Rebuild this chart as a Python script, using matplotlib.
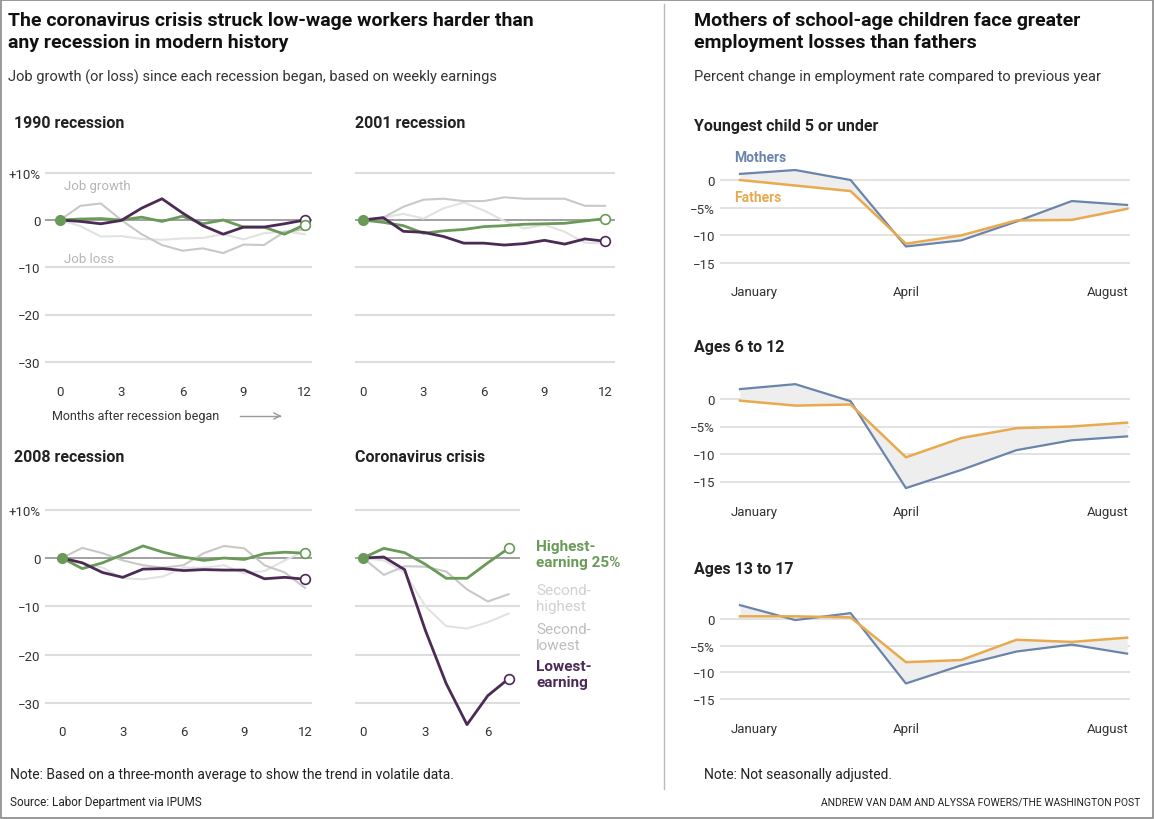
import matplotlib
matplotlib.use("Agg")
import matplotlib.pyplot as plt
from matplotlib.patches import Rectangle
from matplotlib.lines import Line2D

W, H = 1154, 820
fig = plt.figure(figsize=(W/100, H/100), dpi=100)
fig.patch.set_facecolor("white")

NARROW = ["Roboto", "DejaVu Sans"]
BOLD = ["Roboto", "DejaVu Sans"]
SANS = ["Roboto", "DejaVu Sans"]

PURPLE = "#4b2a55"; GREEN = "#6a9a58"; G1 = "#c8c8c8"; G2 = "#e2e2e2"
MOM = "#6b85aa"; DAD = "#e8a94f"

# ---------------- data ----------------
months12 = list(range(13))
months_covid = list(range(8))
r1990_low = [0, -0.3, -0.8, -0.1, 2.5, 4.5, 1.5, -1.2, -3, -1.5, -1.5, -0.8, 0]
r1990_high = [0, 0.2, 0.3, 0, 0.6, -0.3, 0.8, -0.8, 0, -1.5, -1.5, -3, -1]
r1990_g1 = [0, 3, 3.5, 0, -3, -5.3, -6.5, -6, -7, -5.2, -5.3, -2.5, -2]
r1990_g2 = [0, -1.3, -3.5, -3.4, -4, -4.2, -3.9, -3.8, -3, -4.1, -2.8, -2.4, -3]
r2001_low = [0, 0.5, -2.4, -2.6, -3.5, -4.9, -4.9, -5.3, -5, -4.3, -5.1, -4, -4.5]
r2001_high = [0, -0.5, -1.2, -2.8, -2.3, -2, -1.4, -1.2, -0.9, -0.8, -0.7, -0.2, 0.3]
r2001_g1 = [0, 0.5, 2.8, 4.3, 4.5, 4, 4, 4.8, 4.5, 4.5, 4.5, 3, 3]
r2001_g2 = [0, 0.5, 1.3, 0.3, 2.5, 3.7, 2, -0.2, -1.8, -1, -2.5, -4.8, -5]
r2008_low = [0, -1, -3, -4, -2.3, -2.2, -2.6, -2.4, -2.5, -2.5, -4.3, -4, -4.4]
r2008_high = [0, -2.2, -1, 0.7, 2.5, 1.2, 0.2, -0.5, 0, -0.3, 0.9, 1.2, 1]
r2008_g1 = [0, 2.1, 1, -0.5, -1.5, -2, -1.5, 1, 2.5, 2, -1.5, -3, -6.2]
r2008_g2 = [0, -1, -2, -4.2, -4.4, -3.8, -2, -2, -1.5, -3.2, -2.7, -0.5, 1.5]
covid_high = [0, 2, 1.1, -1.3, -4.2, -4.2, -1, 2]
covid_low = [0, 0.2, -2.4, -15, -26, -34.5, -28.5, -25]
covid_second_high = [0, -3.5, -1.7, -1.8, -2.8, -6.5, -9, -7.5]
covid_second_low = [0, -0.5, -3, -10, -14.1, -14.6, -13.3, -11.5]
left_yticks = [10, 0, -10, -20, -30]
left_ylabels = ["+10%", "0", "\u221210", "\u221220", "\u221230"]

month_names = ["January", "February", "March", "April", "May", "June", "July", "August"]
young_mom = [1.1, 1.8, 0, -12, -10.9, -7.5, -3.8, -4.5]
young_dad = [0, -1, -2, -11.5, -10, -7.3, -7.2, -5.2]
mid_mom = [1.8, 2.7, -0.4, -16.2, -12.9, -9.3, -7.5, -6.8]
mid_dad = [-0.3, -1.2, -1, -10.6, -7.1, -5.3, -5.0, -4.3]
teen_mom = [2.6, -0.2, 1.1, -12.1, -8.7, -6.1, -4.8, -6.5]
teen_dad = [0.5, 0.5, 0.3, -8.1, -7.7, -3.9, -4.3, -3.5]
right_yticks = [0, -5, -10, -15]
right_ylabels = ["0", "\u22125%", "\u221210", "\u221215"]


def axes_px(box, xmap, ymap):
    l, t, r, b = box
    ax = fig.add_axes([l/W, 1-b/H, (r-l)/W, (b-t)/H])
    x0, sx = xmap
    ax.set_xlim((l-x0)/sx, (r-x0)/sx)
    y0, sy = ymap
    ax.set_ylim((y0-b)/sy, (y0-t)/sy)
    for s in ax.spines.values():
        s.set_visible(False)
    ax.tick_params(length=0, colors="#333333")
    ax.set_facecolor("none")
    return ax


def left_panel(box, xmap, ymap, title, low, high, g1, g2, xs, xticks, title_y, ylabels=True):
    ax = axes_px(box, xmap, ymap)
    for v in left_yticks:
        ax.axhline(v, color="#999999" if v == 0 else "#dddddd", lw=1.5 if v else 1.3, zorder=0)
    kw = dict(clip_on=False)
    ax.plot(xs, g2, color=G2, lw=1.5, zorder=1, **kw)
    ax.plot(xs, g1, color=G1, lw=1.5, zorder=1, **kw)
    ax.plot(xs, high, color=GREEN, lw=2, zorder=3, **kw)
    ax.plot(xs, low, color=PURPLE, lw=2, zorder=3, **kw)
    ax.plot([0], [0], "o", color=GREEN, ms=7, zorder=4, **kw)
    ax.plot([xs[-1]], [low[-1]], "o", mfc="white", mec=PURPLE, ms=7, mew=1.2, zorder=5, **kw)
    ax.plot([xs[-1]], [high[-1]], "o", mfc="white", mec=GREEN, ms=7, mew=1.2, zorder=5, **kw)
    ax.set_xticks(xticks)
    ax.set_xticklabels([str(v) for v in xticks], family=NARROW, fontsize=9.5, color="#333")
    ax.tick_params(axis="x", pad=8)
    ax.set_yticks(left_yticks)
    if ylabels:
        ax.set_yticklabels(left_ylabels, family=NARROW, fontsize=9.5, color="#333")
        ax.tick_params(axis="y", pad=3)
    else:
        ax.set_yticklabels([])
    fig.text(box[0]/W + (-0.027 if ylabels else 0.0), 1-title_y/H, title,
             family=BOLD, fontweight="bold", fontsize=11.5, va="center", color="#222")
    return ax


ymap_top = (221, 4.725)
ymap_bot = (559, 4.83)
a1 = left_panel((45, 160, 312, 375), (60, 20.4), ymap_top, "1990 recession",
                r1990_low, r1990_high, r1990_g1, r1990_g2, months12, [0, 3, 6, 9, 12], 124)
a2 = left_panel((355, 160, 615, 375), (363, 20.17), ymap_top, "2001 recession",
                r2001_low, r2001_high, r2001_g1, r2001_g2, months12, [0, 3, 6, 9, 12], 124, ylabels=False)
a3 = left_panel((45, 495, 312, 715), (62, 20.25), ymap_bot, "2008 recession",
                r2008_low, r2008_high, r2008_g1, r2008_g2, months12, [0, 3, 6, 9, 12], 458)
a4 = left_panel((355, 495, 520, 715), (363, 20.8), ymap_bot, "Coronavirus crisis",
                covid_low, covid_high, covid_second_high, covid_second_low, months_covid, [0, 3, 6], 458,
                ylabels=False)

a1.text(0.2, 6.5, "Job growth", color="#b5b5b5", fontsize=9.5, family=NARROW)
a1.text(0.2, -8.8, "Job loss", color="#b5b5b5", fontsize=9.5, family=NARROW)
fig.text(52/W, 1-417/H, "Months after recession began", fontsize=9, family=NARROW, color="#333", va="center")
fig.add_artist(Line2D([240/W, 280/W], [1-417/H, 1-417/H], color="#999", lw=1))
fig.add_artist(Line2D([274/W, 280/W], [1-414/H, 1-417/H], color="#999", lw=1))
fig.add_artist(Line2D([274/W, 280/W], [1-420/H, 1-417/H], color="#999", lw=1))

lab_kw = dict(fontsize=11, va="center", linespacing=1.15)
fig.text(536/W, 1-555/H, "Highest-\nearning 25%", color=GREEN, family=BOLD, fontweight="bold", **lab_kw)
fig.text(536/W, 1-599/H, "Second-\nhighest", color="#d0d0d0", family=NARROW, **lab_kw)
fig.text(536/W, 1-638/H, "Second-\nlowest", color="#bdbdbd", family=NARROW, **lab_kw)
fig.text(536/W, 1-675/H, "Lowest-\nearning", color=PURPLE, family=BOLD, fontweight="bold", **lab_kw)


def right_panel(box, y0, sy, title, mom, dad, title_y, legend=False):
    ax = axes_px(box, (740, 55.3), (y0, sy))
    xs = list(range(len(month_names)))
    for v in right_yticks:
        ax.axhline(v, color="#dddddd", lw=1.2, zorder=0)
    ax.fill_between(xs, mom, dad, color="#eeeeee", zorder=1, lw=0)
    ax.plot(xs, mom, color=MOM, lw=1.6, zorder=3)
    ax.plot(xs, dad, color=DAD, lw=1.8, zorder=3)
    ax.set_yticks(right_yticks)
    ax.set_yticklabels(right_ylabels, family=NARROW, fontsize=9.5, color="#333")
    ax.set_xticks([0.25, 3, 6.65])
    ax.set_xticklabels(["January", "April", "August"], family=NARROW, fontsize=9.5, color="#333")
    ax.tick_params(axis="x", pad=8)
    fig.text(694/W, 1-title_y/H, title, family=BOLD, fontweight="bold", fontsize=11.5, va="center", color="#222")
    if legend:
        ax.text(-0.1, 4.2, "Mothers", color=MOM, fontweight="bold", family=BOLD, fontsize=10, va="center")
        ax.text(-0.1, -3.1, "Fathers", color=DAD, fontweight="bold", family=BOLD, fontsize=10, va="center")
    return ax


right_panel((720, 160, 1130, 275), 181, 5.54, "Youngest child 5 or under", young_mom, young_dad, 126, legend=True)
right_panel((720, 380, 1130, 495), 400, 5.5, "Ages 6 to 12", mid_mom, mid_dad, 348)
right_panel((720, 598, 1130, 712), 620, 5.33, "Ages 13 to 17", teen_mom, teen_dad, 570)

fig.text(8/W, 1-32/H, "The coronavirus crisis struck low-wage workers harder than\nany recession in modern history",
         family=BOLD, fontweight="bold", fontsize=14, va="center", linespacing=1.25, color="#111")
fig.text(8/W, 1-77/H, "Job growth (or loss) since each recession began, based on weekly earnings",
         family=SANS, fontsize=10.5, va="center", color="#333")
fig.text(694/W, 1-32/H, "Mothers of school-age children face greater\nemployment losses than fathers",
         family=BOLD, fontweight="bold", fontsize=14, va="center", linespacing=1.25, color="#111")
fig.text(694/W, 1-77/H, "Percent change in employment rate compared to previous year",
         family=SANS, fontsize=10.5, va="center", color="#333")
fig.text(10/W, 1-775/H, "Note: Based on a three-month average to show the trend in volatile data.",
         family=SANS, fontsize=10, va="center", color="#222")
fig.text(704/W, 1-775/H, "Note: Not seasonally adjusted.", family=SANS, fontsize=10, va="center", color="#222")
fig.text(10/W, 1-803/H, "Source: Labor Department via IPUMS", family=SANS, fontsize=8.5, va="center", color="#222")
fig.text(1140/W, 1-803/H, "ANDREW VAN DAM AND ALYSSA FOWERS/THE WASHINGTON POST", family=SANS,
         fontsize=7.5, va="center", ha="right", color="#222")

fig.add_artist(Line2D([664/W, 664/W], [1-5/H, 1-790/H], color="#bbbbbb", lw=1))
fig.add_artist(Rectangle((1/W, 1/H), 1-2/W, 1-2/H, fill=False, edgecolor="#888", lw=1.2, transform=fig.transFigure))

fig.savefig("out.png", dpi=100)
